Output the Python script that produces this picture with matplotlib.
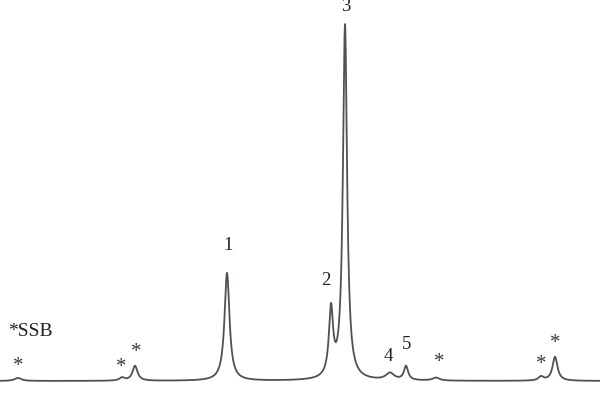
import matplotlib.pyplot as plt
import numpy as np

# peak table (position, height, half width)
centers = [18, 122, 135, 227, 331, 345, 390, 406, 436, 541, 555]
heights = [3, 3, 15, 108, 67, 355, 7, 14, 3, 4, 24]
widths = [4, 3, 3, 3, 2.5, 2.5, 5, 2.5, 4, 3, 3]

labels = ['1', '2', '3', '4', '5']
label_x = [228, 326, 346, 388, 407]
label_y = [127, 92, 366, 16, 28]

ssb_x = [18, 121, 136, 439, 541, 555]
ssb_y = [5, 4, 19, 9, 7, 28]

x = np.linspace(0, 600, 3000)
y = np.zeros_like(x)
for c, h, w in zip(centers, heights, widths):
    y += h / (1 + ((x - c) / w) ** 2)

fig = plt.figure(figsize=(6, 4), dpi=100)
ax = fig.add_axes([0, 0, 1, 1])
ax.plot(x, y, color='#4d5252', lw=1.3)
ax.set_xlim(0, 600)
ax.set_ylim(-19, 381)
ax.axis('off')

for t, lx, ly in zip(labels, label_x, label_y):
    ax.text(lx, ly, t, ha='center', va='bottom', fontsize=13.5,
            family='Liberation Serif', color='#222222')
for sx, sy in zip(ssb_x, ssb_y):
    ax.text(sx, sy, '*', ha='center', va='bottom', fontsize=15,
            family='Liberation Serif', color='#3a3a3a')
ax.text(8, 41, '*SSB', ha='left', va='bottom', fontsize=14,
        family='Liberation Serif', color='#222222')

fig.savefig('out.png', dpi=100)
